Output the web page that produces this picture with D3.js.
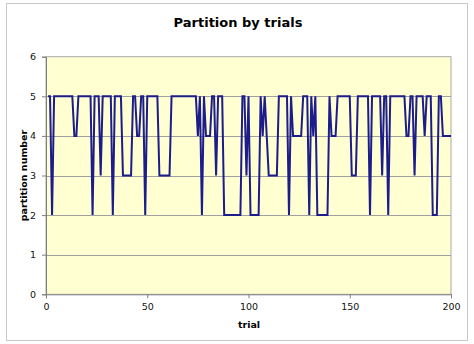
<!DOCTYPE html>
<html><head><meta charset="utf-8">
<script src="https://cdn.jsdelivr.net/npm/d3@7"></script>
<style>body{margin:0;background:#fff;}svg{display:block;}</style>
</head><body>
<svg id="c" width="474" height="344"></svg>
<script>
const title = "Partition by trials";
const xLabel = "trial";
const yLabel = "partition number";
const xTicks = [0, 50, 100, 150, 200];
const yTicks = [0, 1, 2, 3, 4, 5, 6];
const partitions = [
 5,5,2,5,5,5,5,5,5,5,
 5,5,5,4,4,5,5,5,5,5,
 5,5,2,5,5,5,3,5,5,5,
 5,5,2,5,5,5,5,3,3,3,
 3,3,5,5,4,4,5,5,2,5,
 5,5,5,5,5,3,3,3,3,3,
 3,5,5,5,5,5,5,5,5,5,
 5,5,5,5,4,5,2,5,4,4,
 4,5,5,3,5,5,5,2,2,2,
 2,2,2,2,2,2,5,5,3,5,
 2,2,2,2,2,5,4,5,4,3,
 3,3,3,3,5,5,5,5,5,2,
 5,4,4,4,4,4,5,5,5,2,
 5,4,5,2,2,2,2,2,2,5,
 4,4,4,5,5,5,5,5,5,5,
 3,3,3,5,5,5,5,5,5,2,
 5,5,5,5,5,3,5,5,2,5,
 5,5,5,5,5,5,5,4,4,5,
 5,3,5,5,5,5,4,5,5,5,
 2,2,2,5,5,4,4,4,4,4
];
const data = partitions.map((v, i) => ({trial: i + 1, value: v}));

const svg = d3.select("#c");
const pLeft = 46, pRight = 451, pTop = 56.7, pBottom = 294.3;
const x = d3.scaleLinear().domain([0, 200]).range([pLeft, pRight]);
const y = d3.scaleLinear().domain([0, 6]).range([pBottom, pTop]);
const font = "'DejaVu Sans', Verdana, sans-serif";

// outer frame
svg.append("rect").attr("x", 6.5).attr("y", 3.5).attr("width", 461).attr("height", 337)
  .attr("fill", "#fff").attr("stroke", "#c8c8c8").attr("stroke-width", 1);

// plot background
svg.append("rect").attr("x", pLeft).attr("y", pTop).attr("width", pRight - pLeft).attr("height", pBottom - pTop)
  .attr("fill", "#ffffd2").attr("stroke", "#a8a8a8").attr("stroke-width", 1);

// gridlines
svg.append("g").selectAll("line").data(yTicks.filter(t => t > 0 && t < 6)).join("line")
  .attr("x1", pLeft).attr("x2", pRight)
  .attr("y1", d => Math.round(y(d)) + 0.5).attr("y2", d => Math.round(y(d)) + 0.5)
  .attr("stroke", "#a0a0a0").attr("stroke-width", 1);

// axes
const gx = svg.append("g").attr("transform", `translate(0,${pBottom})`)
  .call(d3.axisBottom(x).tickValues(xTicks).tickFormat(d3.format("d")).tickSizeOuter(0).tickSize(4).tickPadding(5));
const gy = svg.append("g").attr("transform", `translate(${pLeft},0)`)
  .call(d3.axisLeft(y).tickValues(yTicks).tickFormat(d3.format("d")).tickSizeOuter(0).tickSize(4).tickPadding(6));
[gx, gy].forEach(g => {
  g.select(".domain").attr("stroke", "#808080");
  g.selectAll(".tick line").attr("stroke", "#808080");
  g.selectAll(".tick text").attr("font-family", font).attr("font-size", "9.5px").attr("fill", "#111");
});

// line
svg.append("path").datum(data)
  .attr("fill", "none").attr("stroke", "#1c1c8c").attr("stroke-width", 2)
  .attr("stroke-linejoin", "miter")
  .attr("d", d3.line().x(d => x(d.trial)).y(d => y(d.value)));

// title and labels
svg.append("text").attr("x", 238).attr("y", 27).attr("text-anchor", "middle")
  .attr("font-family", font).attr("font-weight", "bold").attr("font-size", "13px").attr("fill", "#000").text(title);
svg.append("text").attr("x", 249).attr("y", 328).attr("text-anchor", "middle")
  .attr("font-family", font).attr("font-weight", "bold").attr("font-size", "9.5px").attr("fill", "#000").text(xLabel);
svg.append("text").attr("transform", "translate(26.5,175.5) rotate(-90)").attr("text-anchor", "middle")
  .attr("font-family", font).attr("font-weight", "bold").attr("font-size", "9.5px").attr("fill", "#000").text(yLabel);
</script>
</body></html>
